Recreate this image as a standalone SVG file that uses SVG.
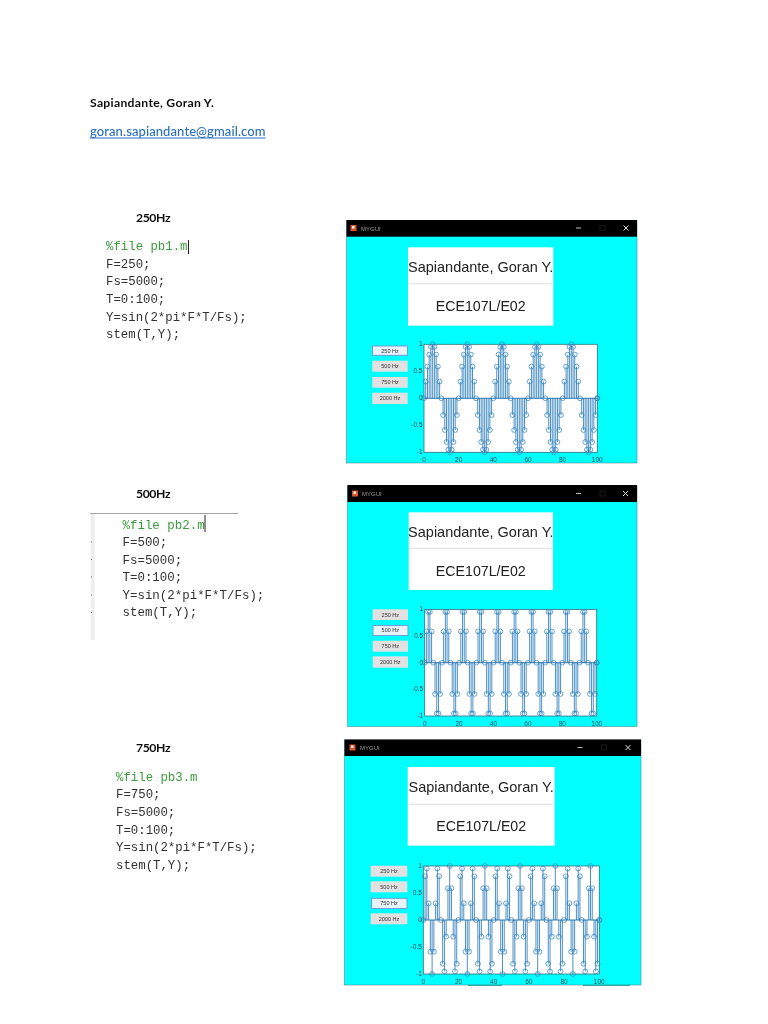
<svg xmlns="http://www.w3.org/2000/svg" width="768" height="1024" viewBox="0 0 768 1024">
<style>
.doc{font-family:"Lato","Liberation Sans",sans-serif;fill:#111}
.b{font-weight:700;font-size:12.2px}
.mail{font-size:13px;fill:#2a6fbd;font-weight:500}
.code{font-family:"Liberation Mono",monospace;font-size:12.35px;fill:#333}
.code2{font-size:12.45px}
.cm{fill:#3c9a3c}
.frame{fill:#00ffff;stroke:#4d8a92;stroke-width:.6}
.bar{fill:#000}
.ttl{font-family:"Liberation Sans",sans-serif;font-size:6px;fill:#999}
.panel{fill:#fff}
.div{stroke:#d4d4d4;stroke-width:.8}
.big{font-family:"Liberation Sans",sans-serif;font-size:14.2px;fill:#222;text-anchor:middle}
.nm{font-size:14.5px}
.btn{fill:#e1e1e1}
.sel{fill:#e8f2fb;stroke:#6f95d8;stroke-width:.9}
.bt{font-family:"Liberation Sans",sans-serif;font-size:5.5px;fill:#333;text-anchor:middle}
.ax{fill:#fff;stroke:#2f6f78;stroke-width:.8}
.st{fill:none;stroke:#3585c0;stroke-width:.9}
.base{stroke:#1f6aa5;stroke-width:.9}
.pts{fill:none;stroke:none;marker-start:url(#o);marker-mid:url(#o);marker-end:url(#o)}
.tk{font-family:"Liberation Sans",sans-serif;font-size:6.5px;fill:#2f4a4e}
.e{text-anchor:end}.m{text-anchor:middle}
.soft{filter:url(#soft)}
</style>
<defs>
<filter id="soft" x="-5%" y="-5%" width="110%" height="110%"><feGaussianBlur stdDeviation="0.33"/></filter>
<marker id="o" markerUnits="userSpaceOnUse" markerWidth="7" markerHeight="7" viewBox="-3.5 -3.5 7 7" refX="0" refY="0"><circle r="2.4" fill="none" stroke="#3585c0" stroke-width=".75"/></marker>
<g id="p250">
<path class="st" d="M1.73 0V-16.7M3.47 0V-31.7M5.2 0V-43.7M6.93 0V-51.4M8.67 0V-54M10.4 0V-51.4M12.13 0V-43.7M13.87 0V-31.7M15.6 0V-16.7M19.07 0V16.7M20.8 0V31.7M22.53 0V43.7M24.27 0V51.4M26 0V54M27.73 0V51.4M29.47 0V43.7M31.2 0V31.7M32.93 0V16.7"/>
<polyline class="pts" points="0,0 1.73,-16.7 3.47,-31.7 5.2,-43.7 6.93,-51.4 8.67,-54 10.4,-51.4 12.13,-43.7 13.87,-31.7 15.6,-16.7 17.33,0 19.07,16.7 20.8,31.7 22.53,43.7 24.27,51.4 26,54 27.73,51.4 29.47,43.7 31.2,31.7 32.93,16.7"/>
</g>
<g id="p500">
<path class="st" d="M1.73 0V-31.7M3.47 0V-51.4M5.2 0V-51.4M6.93 0V-31.7M10.4 0V31.7M12.13 0V51.4M13.87 0V51.4M15.6 0V31.7"/>
<polyline class="pts" points="0,0 1.73,-31.7 3.47,-51.4 5.2,-51.4 6.93,-31.7 8.67,0 10.4,31.7 12.13,51.4 13.87,51.4 15.6,31.7"/>
</g>
<g id="p750">
<path class="st" d="M1.73 0V-43.7M3.47 0V-51.4M5.2 0V-16.7M6.93 0V31.7M8.67 0V54M10.4 0V31.7M12.13 0V-16.7M13.87 0V-51.4M15.6 0V-43.7M19.07 0V43.7M20.8 0V51.4M22.53 0V16.7M24.27 0V-31.7M26 0V-54M27.73 0V-31.7M29.47 0V16.7M31.2 0V51.4M32.93 0V43.7"/>
<polyline class="pts" points="0,0 1.73,-43.7 3.47,-51.4 5.2,-16.7 6.93,31.7 8.67,54 10.4,31.7 12.13,-16.7 13.87,-51.4 15.6,-43.7 17.33,0 19.07,43.7 20.8,51.4 22.53,16.7 24.27,-31.7 26,-54 27.73,-31.7 29.47,16.7 31.2,51.4 32.93,43.7"/>
</g>
<g id="end0"><polyline class="pts" points="173.3,0 173.31,0"/></g>
<g id="box"><rect class="ax" x="0" y="-54" width="173.3" height="108"/></g>
<path id="base" class="base" d="M0 0H173.3"/>
</defs>

<g id="header" class="soft">
<text class="doc b" x="90" y="107" textLength="124">Sapiandante, Goran Y.</text>
<text class="doc mail" x="90" y="135.5" textLength="175.5">goran.sapiandante@gmail.com</text>
<path d="M90 138H265.5" stroke="#2a6fbd" stroke-width="1"/>
</g>

<g id="code-250" class="soft">
<text class="doc b" x="136" y="222" textLength="34.5">250Hz</text>
<text class="code cm" x="106" y="250">%file pb1.m</text>
<text class="code" x="106" y="267.7">F=250;</text>
<text class="code" x="106" y="285.3">Fs=5000;</text>
<text class="code" x="106" y="303">T=0:100;</text>
<text class="code" x="106" y="320.6">Y=sin(2*pi*F*T/Fs);</text>
<text class="code" x="106" y="338">stem(T,Y);</text>
<path d="M188.5 240V254" stroke="#222" stroke-width="1"/>
</g>

<g id="code-500" class="soft">
<text class="doc b" x="136" y="498" textLength="34.5">500Hz</text>
<path d="M90 513.5H238" stroke="#999" stroke-width=".9"/>
<rect x="91" y="514" width="3.5" height="126" fill="#eeeeee"/>
<path d="M91 542h1M91 559.5h1M91 577h1M91 595h1M91 612.5h1" stroke="#666" stroke-width="1"/>
<text class="code code2 cm" x="122.5" y="528.5">%file pb2.m</text>
<text class="code code2" x="122.5" y="546">F=500;</text>
<text class="code code2" x="122.5" y="563.5">Fs=5000;</text>
<text class="code code2" x="122.5" y="581">T=0:100;</text>
<text class="code code2" x="122.5" y="598.7">Y=sin(2*pi*F*T/Fs);</text>
<text class="code code2" x="122.5" y="616.3">stem(T,Y);</text>
<path d="M205 515V532" stroke="#222" stroke-width="1"/>
</g>

<g id="code-750" class="soft">
<text class="doc b" x="136" y="752" textLength="34.5">750Hz</text>
<text class="code cm" x="116" y="780.7">%file pb3.m</text>
<text class="code" x="116" y="798.3">F=750;</text>
<text class="code" x="116" y="816">Fs=5000;</text>
<text class="code" x="116" y="833.6">T=0:100;</text>
<text class="code" x="116" y="851.3">Y=sin(2*pi*F*T/Fs);</text>
<text class="code" x="116" y="869">stem(T,Y);</text>
</g>

<g id="window-250" class="soft">
<rect class="frame" x="346.5" y="220.5" width="290.5" height="242.5"/>
<rect class="bar" x="346.5" y="220" width="290.5" height="16.7"/>
<rect x="350.5" y="225" width="6" height="6" fill="#d9542b"/><rect x="352" y="226" width="2.5" height="2.5" fill="#eee"/>
<text class="ttl" x="361" y="230.5">MYGUI</text>
<path d="M576 228H581" stroke="#bbb" stroke-width="1"/>
<rect x="600" y="225.5" width="5" height="5" fill="none" stroke="#222" stroke-width=".7"/>
<path d="M623.5 225.5l5 5m0-5l-5 5" stroke="#ddd" stroke-width="1"/>
<rect class="panel" x="408" y="247.3" width="145.3" height="78.4"/>
<path class="div" d="M408 283.7H553.3"/>
<text class="big nm" x="480.7" y="272.3">Sapiandante, Goran Y.</text>
<text class="big" x="480.7" y="311">ECE107L/E02</text>
<rect class="sel" x="372.5" y="346" width="35" height="9.3"/><text class="bt" x="390" y="352.8">250 Hz</text>
<rect class="btn" x="372.3" y="360.7" width="35.4" height="11"/><text class="bt" x="390" y="368">500 Hz</text>
<rect class="btn" x="372.3" y="377" width="35.4" height="10.7"/><text class="bt" x="390" y="384.2">750 Hz</text>
<rect class="btn" x="372.3" y="392.7" width="35.4" height="11.3"/><text class="bt" x="390" y="400.2">2000 Hz</text>
<g transform="translate(424,398.3)">
<use href="#box"/>
<use href="#p250"/><use href="#p250" x="34.66"/><use href="#p250" x="69.32"/><use href="#p250" x="103.98"/><use href="#p250" x="138.64"/><use href="#end0"/>
<use href="#base"/>
<g class="tk"><text class="e" x="-1.5" y="-52">1</text><text class="e" x="-1.5" y="-25">0.5</text><text class="e" x="-1.5" y="2">0</text><text class="e" x="-1.5" y="29">-0.5</text><text class="e" x="-1.5" y="56">-1</text>
<text class="m" x="0" y="64">0</text><text class="m" x="34.7" y="64">20</text><text class="m" x="69.3" y="64">40</text><text class="m" x="104" y="64">60</text><text class="m" x="138.6" y="64">80</text><text class="m" x="173.3" y="64">100</text></g>
</g>
</g>

<g id="window-500" class="soft">
<rect class="frame" x="347.5" y="486" width="289.5" height="240.5"/>
<rect class="bar" x="347.5" y="485" width="289.5" height="17"/>
<rect x="352" y="490.5" width="6" height="6" fill="#d9542b"/><rect x="353.5" y="491.5" width="2.5" height="2.5" fill="#eee"/>
<text class="ttl" x="362" y="496">MYGUI</text>
<path d="M576 493.5H581" stroke="#bbb" stroke-width="1"/>
<rect x="600" y="491" width="5" height="5" fill="none" stroke="#222" stroke-width=".7"/>
<path d="M623 491l5 5m0-5l-5 5" stroke="#ddd" stroke-width="1"/>
<rect class="panel" x="408.7" y="512.3" width="144.3" height="77.7"/>
<path class="div" d="M408.7 548.3H553"/>
<text class="big nm" x="480.8" y="537.3">Sapiandante, Goran Y.</text>
<text class="big" x="480.8" y="575.7">ECE107L/E02</text>
<rect class="btn" x="372.7" y="609.3" width="35.3" height="10.7"/><text class="bt" x="390.3" y="616.6">250 Hz</text>
<rect class="sel" x="373" y="625.5" width="35" height="10"/><text class="bt" x="390.3" y="632.4">500 Hz</text>
<rect class="btn" x="372.7" y="640.7" width="35.3" height="11"/><text class="bt" x="390.3" y="648">750 Hz</text>
<rect class="btn" x="372.7" y="656.3" width="35.3" height="11.4"/><text class="bt" x="390.3" y="663.8">2000 Hz</text>
<g transform="translate(424.7,662.7)">
<g transform="scale(.9925,.987)">
<use href="#box"/>
<use href="#p500"/><use href="#p500" x="17.33"/><use href="#p500" x="34.66"/><use href="#p500" x="51.99"/><use href="#p500" x="69.32"/><use href="#p500" x="86.65"/><use href="#p500" x="103.98"/><use href="#p500" x="121.31"/><use href="#p500" x="138.64"/><use href="#p500" x="155.97"/><use href="#end0"/>
<use href="#base"/>
</g>
<g class="tk"><text class="e" x="-1.5" y="-51.5">1</text><text class="e" x="-1.5" y="-24.6">0.5</text><text class="e" x="-1.5" y="2">0</text><text class="e" x="-1.5" y="28.7">-0.5</text><text class="e" x="-1.5" y="55.4">-1</text>
<text class="m" x="0" y="63">0</text><text class="m" x="34.4" y="63">20</text><text class="m" x="68.8" y="63">40</text><text class="m" x="103.2" y="63">60</text><text class="m" x="137.6" y="63">80</text><text class="m" x="172" y="63">100</text></g>
</g>
</g>

<g id="window-750" class="soft">
<rect class="frame" x="344.5" y="740" width="296.5" height="245"/>
<rect class="bar" x="344.5" y="739.5" width="296.5" height="16.5"/>
<rect x="349.5" y="744.5" width="6" height="6" fill="#d9542b"/><rect x="351" y="745.5" width="2.5" height="2.5" fill="#eee"/>
<text class="ttl" x="360" y="750">MYGUI</text>
<path d="M577.5 747.5H582.5" stroke="#bbb" stroke-width="1"/>
<rect x="601.5" y="745" width="5" height="5" fill="none" stroke="#222" stroke-width=".7"/>
<path d="M625.5 745l5 5m0-5l-5 5" stroke="#ddd" stroke-width="1"/>
<rect class="panel" x="407.7" y="767" width="147" height="78.7"/>
<path class="div" d="M407.7 804.3H554.7"/>
<text class="big nm" x="481.2" y="792.3">Sapiandante, Goran Y.</text>
<text class="big" x="481.2" y="831">ECE107L/E02</text>
<rect class="btn" x="370.7" y="865.7" width="36.6" height="11"/><text class="bt" x="389" y="873.2">250 Hz</text>
<rect class="btn" x="370.7" y="881.3" width="36.6" height="11"/><text class="bt" x="389" y="888.8">500 Hz</text>
<rect class="sel" x="371.5" y="898.3" width="35.5" height="10.2"/><text class="bt" x="389" y="905.4">750 Hz</text>
<rect class="btn" x="370.7" y="913.3" width="36.6" height="11"/><text class="bt" x="389" y="920.8">2000 Hz</text>
<g transform="translate(423.3,920)">
<g transform="scale(1.0155,1)">
<use href="#box"/>
<use href="#p750"/><use href="#p750" x="34.66"/><use href="#p750" x="69.32"/><use href="#p750" x="103.98"/><use href="#p750" x="138.64"/><use href="#end0"/>
<use href="#base"/>
</g>
<g class="tk"><text class="e" x="-1.5" y="-52">1</text><text class="e" x="-1.5" y="-25">0.5</text><text class="e" x="-1.5" y="2">0</text><text class="e" x="-1.5" y="29">-0.5</text><text class="e" x="-1.5" y="56">-1</text>
<text class="m" x="0" y="64">0</text><text class="m" x="35.2" y="64">20</text><text class="m" x="70.4" y="64">40</text><text class="m" x="105.6" y="64">60</text><text class="m" x="140.8" y="64">80</text><text class="m" x="176" y="64">100</text></g>
</g>
<path d="M468 985.3H502M583 985.3H630" stroke="#0f9a9a" stroke-width="1"/>
</g>
</svg>
